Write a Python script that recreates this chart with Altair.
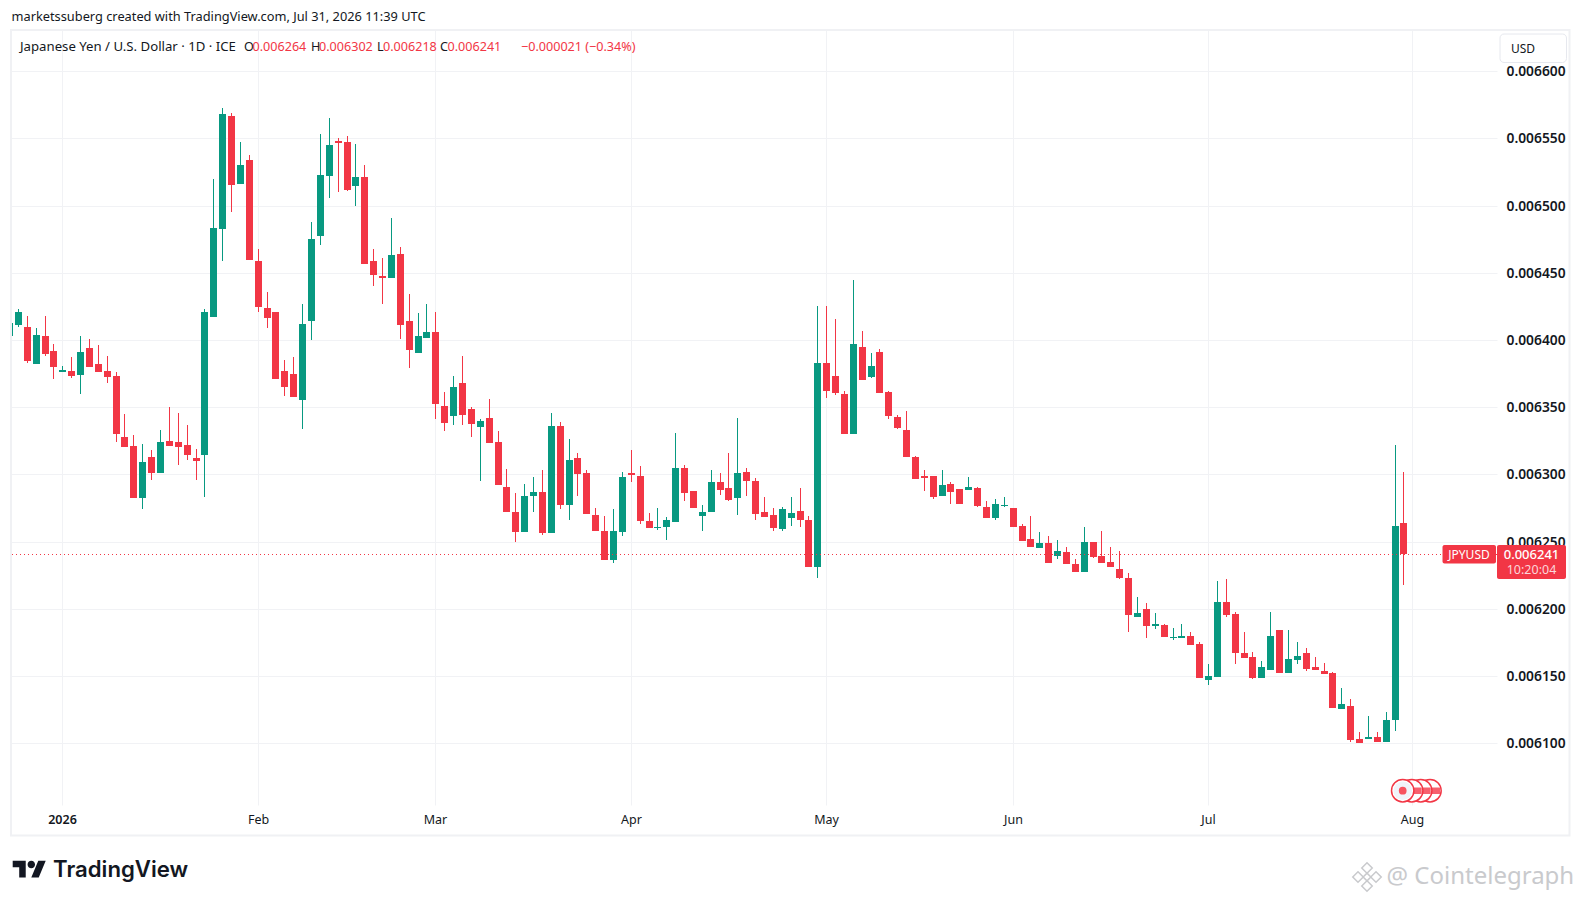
import altair as alt
import pandas as pd

# Candles in millionths of USD per JPY, trading-day index 0 = 1 Jan 2026
START_INDEX = -6
OPEN = [6403.1,6411.3,6409.8,6382.2,6403.1,6391.9,6376.3,6377,6374.1,6394.1,6382.2,6377,6373.3,6327.9,6321.2,6282.5,6313.1,6301.1,6325,6324.2,6322,6312.3,6314.5,6417.2,6482.7,6566.8,6516.2,6534,6458.9,6423.8,6420.9,6377,6374.7,6355.4,6414.2,6477.4,6522.1,6548.1,6547.4,6514.6,6521.3,6458.8,6447.7,6446.2,6464,6414.2,6390.4,6401.5,6406,6350.9,6343.5,6368,6348.7,6335.3,6342,6324.2,6290.7,6272.1,6257.3,6284,6287,6256.5,6336.1,6277.3,6312.3,6301.1,6269.9,6258,6236.4,6257.3,6301.1,6298.9,6265.4,6260.2,6261,6264.7,6304.9,6287.8,6269.2,6272.1,6294.5,6290,6282.5,6301.9,6295.2,6272.1,6269.9,6259.5,6267.7,6272.9,6266.2,6231.1,6382.9,6373.2,6359.8,6330.1,6394.8,6372.5,6391.1,6361.3,6342.7,6333.1,6313,6298.8,6298.8,6284,6292.9,6289.2,6288.4,6289.9,6275.8,6267.6,6276.5,6275,6261.6,6252,6245.3,6249,6239.3,6242.3,6233.4,6227.4,6249.8,6239.3,6234.9,6229.7,6223,6194,6199.9,6187.3,6188,6178.3,6178.3,6179.8,6173.9,6147.1,6149.3,6205.1,6196.2,6167.2,6164.2,6148.6,6154.5,6184.3,6152.3,6162,6167.2,6156.8,6153.8,6152.3,6125.5,6127.8,6103.2,6103.2,6104.7,6101,6117.3,6264]
HIGH = [6412.7,6423.2,6418,6409,6418,6397.1,6380.8,6387.5,6403.1,6400.8,6396.4,6388.2,6376.3,6345,6329.4,6322.7,6318.3,6333.1,6350.3,6345.8,6336.9,6319,6423.2,6519.9,6572.7,6569,6547.4,6537.7,6467.8,6435.8,6420.9,6385.2,6387.4,6426.8,6487.8,6553.3,6565.2,6550.3,6551.8,6545.9,6530.2,6467.7,6461,6490.8,6469.2,6434.3,6420.1,6426.8,6420.9,6361.4,6373.3,6388.1,6350.2,6341.3,6356.1,6332.3,6304.1,6286.3,6293,6298.2,6303.4,6345.8,6339.1,6326.4,6316,6303.4,6275.1,6269.2,6274.4,6301.9,6318.3,6306.4,6271.4,6275.1,6268.4,6330.9,6307.1,6287.8,6277.3,6303.4,6301.1,6316,6342.1,6304.9,6297.4,6283.3,6275.1,6275.9,6283.3,6290,6269.2,6425.3,6425.3,6415.6,6362.1,6444.7,6406.7,6390.3,6393.3,6362.1,6344.2,6347.2,6313.7,6303.3,6298.8,6303.3,6294.4,6289.2,6298.1,6290.7,6280.2,6281.7,6283.2,6275,6263.1,6269.1,6257.2,6254.2,6251.2,6246,6237.1,6260.9,6249.8,6257.9,6246,6243.1,6226.7,6208.8,6204.4,6196.9,6188.7,6185.8,6188.7,6182.8,6175.4,6159,6220.7,6222.2,6197.7,6182.8,6167.9,6161.2,6197.7,6184.3,6184.3,6175.4,6170.9,6164.2,6159.7,6153.1,6141.1,6133,6108.4,6120.3,6108.4,6123.3,6321.9,6302]
LOW = [6403.1,6409.8,6383,6382.2,6388.2,6371.1,6376.3,6371.8,6359.9,6380,6376.3,6368.1,6324.2,6320.5,6282.5,6274.4,6295.9,6301.1,6321.2,6307.1,6310.8,6295.9,6283.3,6417.2,6458.9,6495.3,6516.2,6459.6,6420.9,6409,6371,6358.4,6357.6,6333.8,6400,6470.7,6505.7,6510.2,6510.9,6499.7,6456.6,6440.2,6426.8,6446.2,6400.8,6379.2,6390.4,6401.5,6341.3,6332.3,6336.8,6336.8,6327.9,6295.1,6323.4,6292.2,6272.1,6249.8,6257.3,6272.1,6255,6256.5,6274.4,6266.2,6284,6270.6,6258,6236.4,6234.2,6254.3,6294.5,6263.2,6260.2,6258.7,6251.3,6264.7,6280.3,6275.1,6258,6272.1,6284.8,6280.3,6269.9,6284,6266.2,6268.4,6258,6258,6261.7,6261,6231.2,6222.9,6356.9,6359.1,6330.1,6330.1,6370.3,6371.7,6360.6,6341.2,6333.8,6313,6296.6,6287.7,6281.7,6284,6278,6278,6288.4,6275.8,6267.6,6266.1,6275.8,6260.9,6250.5,6246,6245.3,6234.1,6237.1,6233.4,6227.4,6227.4,6237.8,6234.1,6231.2,6222.2,6182.8,6194,6178.3,6185,6179.1,6176.8,6178.3,6173.1,6148.6,6143.4,6149.3,6194,6159,6163.5,6147.8,6148.6,6154.5,6152.3,6152.3,6159,6153.8,6154.5,6151.6,6126.3,6125.5,6101,6100.2,6103.2,6101,6101,6109.2,6218]
CLOSE = [6412.7,6420.9,6384.5,6403.8,6389.7,6380,6377.8,6373.3,6391.2,6380,6376.3,6372.6,6330.2,6320.5,6282.5,6309.3,6301.1,6324.2,6321.2,6320.5,6314.5,6310.1,6420.9,6483.4,6568.2,6515.4,6530.3,6459.6,6424.7,6416.4,6371,6365.1,6357.6,6411.9,6475.2,6522.8,6545.1,6546.6,6511.6,6521.3,6456.6,6448.4,6446.2,6463.3,6411.2,6392.6,6403,6406,6352.4,6338.3,6365.1,6344.2,6337.5,6339.8,6323.4,6292.2,6272.1,6257.3,6284,6287,6256.5,6336.1,6277.3,6310.8,6300.4,6270.6,6258,6236.4,6258,6298.2,6299.7,6265.4,6260.2,6261,6266.2,6304.9,6286.3,6275.1,6272.1,6294.5,6288.5,6281.1,6301.1,6295.2,6270.6,6268.4,6260.2,6274.4,6271.4,6266.2,6231.2,6382.9,6362.1,6360.6,6330.1,6397,6370.3,6380.7,6360.6,6343.5,6334.5,6313,6296.6,6297.3,6283.2,6292.1,6286.9,6278,6290.7,6276.5,6267.6,6278,6277.3,6260.9,6250.5,6246,6249,6234.1,6243.1,6233.4,6227.4,6249.8,6238.6,6234.1,6231.2,6223,6195.4,6196.9,6187.3,6188.7,6179.1,6179.1,6179.8,6173.1,6148.6,6150.1,6205.1,6195.5,6167.2,6163.5,6148.6,6156.8,6179.8,6152.3,6162.7,6165,6155.3,6154.5,6151.6,6126.3,6129.2,6102.5,6100.2,6104.7,6101,6117.3,6261.7,6241]

TIME_TICKS = [0, 22, 42, 64, 86, 107, 129, 152]
TIME_LABELS = ["2026", "Feb", "Mar", "Apr", "May", "Jun", "Jul", "Aug"]
PRICE_TICKS = [0.0061, 0.00615, 0.0062, 0.00625, 0.0063, 0.00635, 0.0064, 0.00645, 0.0065, 0.00655, 0.0066]
LAST_PRICE = 0.006241

UP = "#089981"
DOWN = "#F23645"
INK = "#131722"
GRID = "#F1F2F5"
FONT = "Noto Sans"

df = pd.DataFrame({
    "i": list(range(START_INDEX, START_INDEX + len(OPEN))),
    "open": [v / 1e6 for v in OPEN],
    "high": [v / 1e6 for v in HIGH],
    "low": [v / 1e6 for v in LOW],
    "close": [v / 1e6 for v in CLOSE],
})
df["dir"] = ["up" if c > o else "down" for o, c in zip(df["open"], df["close"])]

X_DOMAIN = [-5.776, 161.53]
Y_DOMAIN = [0.0060541, 0.0066307]
x_scale = alt.Scale(domain=X_DOMAIN, nice=False, zero=False, padding=0, round=True)
y_scale = alt.Scale(domain=Y_DOMAIN, nice=False, zero=False, padding=0, round=True)
color = alt.Color("dir:N", legend=None, scale=alt.Scale(domain=["up", "down"], range=[UP, DOWN]))

label_expr = "{" + ",".join(f"'{t}':'{l}'" for t, l in zip(TIME_TICKS, TIME_LABELS)) + "}[datum.value]"
x_axis = alt.Axis(
    values=TIME_TICKS, labelExpr=label_expr, grid=True, gridColor=GRID, gridWidth=1,
    domain=False, ticks=False, title=None, labelFontSize=12.5, labelFont=FONT, labelColor=INK,
    labelPadding=8, labelAngle=0, labelFlush=False, labelOverlap=False,
    labelFontWeight={"condition": {"test": "datum.value === 0", "value": 600}, "value": 400},
)
y_axis = alt.Axis(
    values=PRICE_TICKS, format=".6f", orient="right", grid=True, gridColor=GRID, gridWidth=1,
    domain=False, ticks=False, title=None, labelFontSize=13.8, labelFontWeight=600, labelFont=FONT,
    labelColor=INK, labelPadding=9, labelAlign="left", labelFlush=False, labelOverlap=False,
)

base = alt.Chart(df)
wicks = base.mark_rule(strokeWidth=1, clip=True, xOffset=0.5).encode(
    x=alt.X("i:Q", scale=x_scale, axis=x_axis),
    y=alt.Y("low:Q", scale=y_scale, axis=y_axis),
    y2="high:Q",
    color=color,
)
bodies = base.mark_bar(size=7, clip=True, stroke=None, xOffset=0.5).encode(
    x=alt.X("i:Q", scale=x_scale, axis=x_axis),
    y=alt.Y("open:Q", scale=y_scale, axis=y_axis),
    y2="close:Q",
    color=color,
)
price_line = alt.Chart(pd.DataFrame({"p": [LAST_PRICE]})).mark_rule(
    color=DOWN, strokeWidth=1, strokeDash=[1, 3], yOffset=0.5
).encode(y=alt.Y("p:Q", scale=y_scale, axis=y_axis))

ORIGIN_X, ORIGIN_Y = 11, 30
one = alt.Data(values=[{}])


def note(text, x, y, color=INK, size=12.6, weight=400, align="left", font=FONT, opacity=1):
    return alt.Chart(one).mark_text(
        align=align, baseline="middle", font=font, fontSize=size, fontWeight=weight,
        color=color, opacity=opacity,
    ).encode(x=alt.value(x - ORIGIN_X), y=alt.value(y - ORIGIN_Y), text=alt.value(text))


def box(x0, x1, y0, y1, **kw):
    return alt.Chart(one).mark_rect(**kw).encode(
        x=alt.value(x0 - ORIGIN_X), x2=alt.value(x1 - ORIGIN_X),
        y=alt.value(y0 - ORIGIN_Y), y2=alt.value(y1 - ORIGIN_Y),
    )


def dot(x, y, size, shape="circle", **kw):
    return alt.Chart(one).mark_point(shape=shape, size=size, opacity=1, **kw).encode(
        x=alt.value(x - ORIGIN_X), y=alt.value(y - ORIGIN_Y),
    )


layers = [wicks, bodies, price_line]

# outer frame of the chart
layers.append(box(11, 1569.5, 30, 835.5, fillOpacity=0, stroke="#F0F1F4", strokeWidth=2))

# top text
layers.append(note("marketssuberg created with TradingView.com, Jul 31, 2026 11:39 UTC", 11.5, 16.5, size=12.8))
layers.append(note("Japanese Yen / U.S. Dollar · 1D · ICE", 20, 46.5, size=13.2))
for t, x, c in [
    ("O", 244, INK), ("0.006264", 252.5, DOWN), ("H", 311, INK), ("0.006302", 319, DOWN),
    ("L", 377, INK), ("0.006218", 383, DOWN), ("C", 440, INK), ("0.006241", 447.5, DOWN),
    ("−0.000021 (−0.34%)", 521, DOWN),
]:
    layers.append(note(t, x, 46.5, color=c))

# USD button
layers.append(box(1500, 1566.5, 34, 62.5, fill="white", stroke="#E6E8EE", strokeWidth=1, cornerRadius=4))
layers.append(note("USD", 1511, 48.5, size=12))

# last price tags
layers.append(box(1442.5, 1496, 545, 563.5, fill=DOWN, cornerRadius=2))
layers.append(note("JPYUSD", 1469, 554.5, color="white", size=12, align="center"))
layers.append(box(1497, 1566, 545, 579, fill=DOWN, cornerRadius=2))
layers.append(note("0.006241", 1531.5, 554.5, color="white", size=13, weight=500, align="center"))
layers.append(note("10:20:04", 1531.5, 569.5, color="#FBD5D9", size=12.5, align="center"))

# event markers, back to front
for cx in [1430, 1420.7, 1411.7]:
    layers.append(dot(cx, 790.7, 500, filled=True, color="white", stroke=DOWN, strokeWidth=1.5))
    layers.append(box(cx - 10, cx + 10, 787.5, 794, fill="#F7606E"))
layers.append(dot(1402.7, 790.7, 500, filled=True, color="white", stroke=DOWN, strokeWidth=1.5))
layers.append(dot(1402.7, 790.7, 340, filled=True, color="#F0F3FA"))
layers.append(dot(1402.7, 790.7, 60, filled=True, color="#F7525F"))

# TradingView brand
LOGO = "M14 22H7V11H0V4h14v18zM28 22h-8l7.5-18h8L28 22zM16 8a4 4 0 1 0 8 0a4 4 0 1 0 -8 0z"
layers.append(dot(12.7, 857, 3.46, shape=LOGO, filled=True, color=INK))
layers.append(note("TradingView", 53, 870, size=22.2, weight=600, font="Inter"))

# Cointelegraph watermark
WM = "#C9CACD"
for dx, dy in [(-9, 0), (9, 0), (0, -9), (0, 9)]:
    layers.append(dot(1367 + dx, 877 + dy, 110, shape="diamond", filled=False, color=WM, strokeWidth=1.5))
layers.append(dot(1367, 877, 60, shape="diamond", filled=False, color=WM, strokeWidth=1.5))
layers.append(note("@ Cointelegraph", 1386.5, 877, color=WM, size=24, font="Noto Sans"))

chart = alt.layer(*layers).resolve_scale(color="shared").properties(
    width=1486, height=775,
    padding={"left": 3, "top": 22, "right": 76, "bottom": 89},
    autosize=alt.AutoSizeParams(type="none"),
    background="white",
).configure_view(stroke=None)

chart.save("out.html", embed_options={"renderer": "svg", "actions": False})
